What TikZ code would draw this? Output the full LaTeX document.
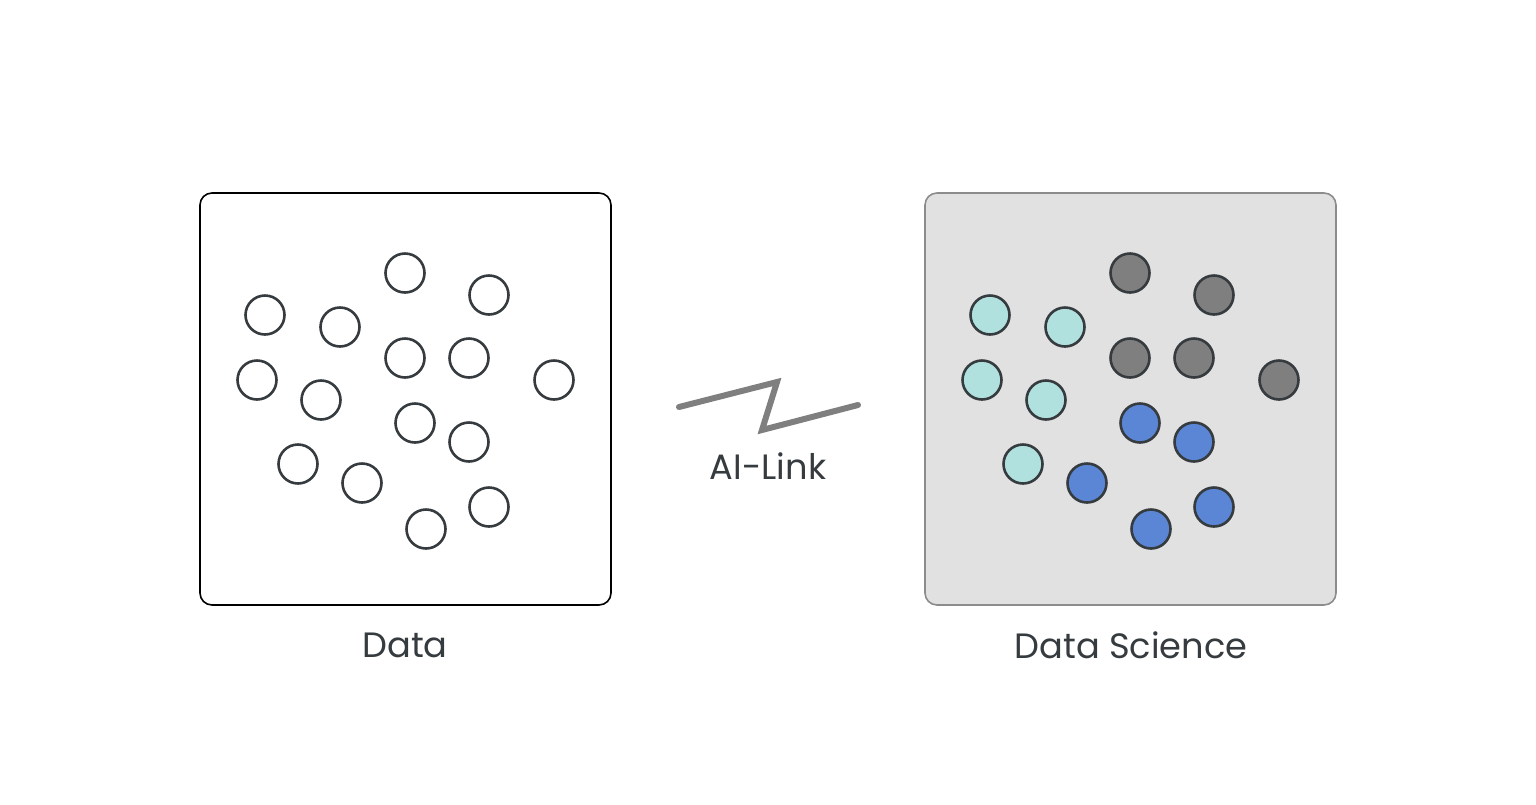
\documentclass[tikz,border=0pt]{standalone}
\usepackage{fontspec}
\setmainfont{Poppins}
\definecolor{ink}{HTML}{353B3E}
\definecolor{tealc}{HTML}{B1E1DF}
\definecolor{bluec}{HTML}{5A86D5}
\definecolor{grayc}{HTML}{7F7F7F}
\definecolor{boxf}{HTML}{E1E1E1}
\tikzset{
 dot/.style={circle,draw=ink,line width=1.3pt,minimum size=19.5pt,inner sep=0pt},
 lbl/.style={text=ink,font=\fontsize{17.6}{20}\selectfont},
}
\begin{document}
\begin{tikzpicture}[x=0.5pt,y=-0.5pt]
\useasboundingbox (0,0) rectangle (1536,804);
\node[draw=black,line width=0.8pt,rounded corners=6pt,minimum width=205.5pt,minimum height=206pt] (L) at (405.5,399) {};
\node[draw=grayc!90,fill=boxf,line width=0.8pt,rounded corners=6pt,minimum width=205.5pt,minimum height=206pt] (R) at (1130.5,399) {};
\foreach \x/\y/\c [count=\i] in {405/273/grayc,489/295/grayc,265/315/tealc,340/327/tealc,405/358/grayc,469/358/grayc,257/380/tealc,554/380/grayc,321/400/tealc,415/423/bluec,469/442/bluec,298/464/tealc,362/483/bluec,489/507/bluec,426/529/bluec}{
 \node[dot] (a\i) at (\x,\y) {};
 \node[dot,fill=\c] (b\i) at (\x+725,\y) {};
}
\coordinate (z1) at (679,407);
\coordinate (z2) at (777,382);
\coordinate (z3) at (762,430);
\coordinate (z4) at (858,405);
\draw[grayc,line width=3pt,line cap=round] (z1) -- (z2) -- (z3) -- (z4);
\node[lbl] (ai) at (768,466) {AI-Link};
\node[lbl] (d) at (405,645) {Data};
\node[lbl] (ds) at (1131,645) {Data Science};
\end{tikzpicture}
\end{document}
